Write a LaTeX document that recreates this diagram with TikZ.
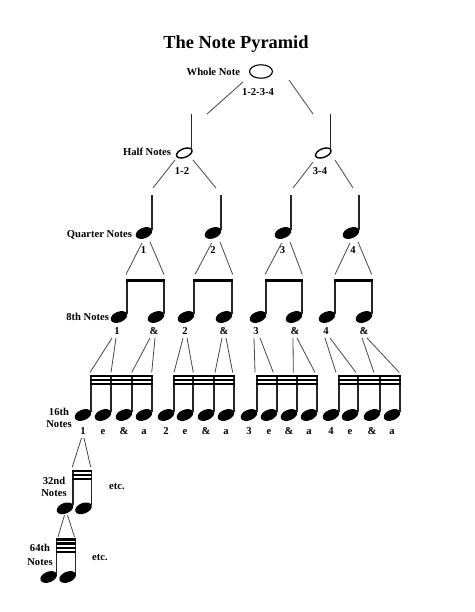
\documentclass[tikz,border=0pt]{standalone}
\usepackage{fontspec}
\setmainfont{Liberation Serif}
\usetikzlibrary{shapes.geometric}
\begin{document}
\begin{tikzpicture}[x=1pt,y=-1pt,
  lbl/.style={font=\bfseries\fontsize{10.6}{12}\selectfont, inner sep=0pt, outer sep=0pt},
  mlbl/.style={lbl, align=center},
  titlefont/.style={font=\bfseries\fontsize{18.4}{22}\selectfont, inner sep=0pt},
  fhead/.style={ellipse, fill=black, draw=none, minimum width=17.4pt, minimum height=10.6pt, inner sep=0pt, outer sep=0pt, rotate=22},
  ohead/.style={ellipse, draw=black, line width=1.4pt, fill=white, minimum width=16.4pt, minimum height=8.6pt, inner sep=0pt, outer sep=0pt, rotate=22},
  wholehead/.style={ellipse, draw=black, line width=1.1pt, fill=white, minimum width=23pt, minimum height=13.5pt, inner sep=0pt},
  stemline/.style={line width=1.1pt, black!85},
  connline/.style={line width=0.8pt, black!72},
  beamline/.style={line width=2.8pt, black},
  beamthin/.style={line width=2pt, black},
]
\def\hoff{8.05}
\useasboundingbox (0,0) rectangle (474,612);
\fill[white] (0,0) rectangle (474,612);

% title
\node[titlefont, anchor=base] (title) at (236,49) {The Note Pyramid};

% whole note
\node[wholehead] (whole) at (261,71.5) {};
\node[lbl, anchor=base east] (wlab) at (240,75.5) {Whole Note};
\node[lbl, anchor=base] (wcount) at (258,96) {1-2-3-4};

% half notes
\coordinate (htop) at (0,114);
\node[ohead] (h1) at (184.3,153) {};
\node[ohead] (h2) at (323.3,153) {};
\draw[stemline] (h1.east) -- (h1.east |- htop);
\draw[stemline] (h2.east) -- (h2.east |- htop);
\node[lbl, anchor=base east] (hlab) at (171,156) {Half Notes};
\node[lbl, anchor=base] (hc1) at (182,175) {1-2};
\node[lbl, anchor=base] (hc2) at (320,175) {3-4};

% quarter notes
\coordinate (qtop) at (0,195);
\foreach \i/\x/\lx in {1/152/143.5, 2/221/213, 3/291/282.5, 4/359/353} {
  \node[fhead] (q\i) at (\x-\hoff,233) {};
  \draw[stemline] (q\i.east) -- (q\i.east |- qtop);
  \node[lbl, anchor=base] (qn\i) at (\lx,253) {\i};
}
\node[lbl, anchor=base east] (qlab) at (132,237) {Quarter Notes};

% eighth notes
\coordinate (b8) at (0,279.3);
\foreach \i/\x/\lx/\t in {1/127/117/1, 2/164/154/\&, 3/194/185/2, 4/232/224/\&, 5/266/256/3, 6/302/295/\&, 7/335/326/4, 8/372/364/\&} {
  \node[fhead] (e\i) at (\x-\hoff,317) {};
  \draw[stemline] (e\i.east) -- (e\i.east |- b8);
  \node[lbl, anchor=base] (en\i) at (\lx,334.5) {\t};
}
\foreach \a/\b in {127/164, 194/232, 266/302, 335/372}
  \draw[beamline] (\a-0.55,280.5) -- (\b+0.55,280.5);
\node[lbl, anchor=base east] (elab) at (109,320) {8th Notes};

% sixteenth notes
\coordinate (b16) at (0,375.3);
\coordinate (n16) at (0,434);
\foreach \i/\x/\t in {1/91/1, 2/111/e, 3/132/\&, 4/152/a, 5/174/2, 6/193/e, 7/214/\&, 8/234/a, 9/257/3, 10/277/e, 11/297/\&, 12/317/a, 13/339/4, 14/358/e, 15/380/\&, 16/400/a} {
  \node[fhead] (s\i) at (\x-\hoff,415) {};
  \draw[stemline] (s\i.east) -- (s\i.east |- b16);
  \node[lbl, anchor=base] (sn\i) at (s\i.center |- n16) {\t};
}
\foreach \a/\b in {91/152, 174/234, 257/317, 339/400}
  \foreach \yy in {376.2, 379.8, 383.9}
    \draw[beamthin] (\a-0.55,\yy) -- (\b+0.55,\yy);
\node[mlbl] (slab) at (59,418) {16th\\Notes};

% thirty-second notes
\coordinate (b32) at (0,470.2);
\node[fhead] (t1) at (73-\hoff,508.3) {};
\node[fhead] (t2) at (91.5-\hoff,508.3) {};
\draw[stemline] (t1.east) -- (t1.east |- b32);
\draw[stemline] (t2.east) -- (t2.east |- b32);
\foreach \yy in {471.2, 475, 479}
  \draw[beamthin] (72.45,\yy) -- (92.05,\yy);
\node[mlbl] (tlab) at (54,487) {32nd\\Notes};
\node[lbl] (tetc) at (117,487) {etc.};

% sixty-fourth notes
\coordinate (b64) at (0,538.4);
\node[fhead] (x1) at (56.7-\hoff,577) {};
\node[fhead] (x2) at (75.7-\hoff,577) {};
\draw[stemline] (x1.east) -- (x1.east |- b64);
\draw[stemline] (x2.east) -- (x2.east |- b64);
\foreach \yy in {539.5, 543.4, 547.6, 551.8}
  \draw[beamthin, line width=2.2pt] (56.15,\yy) -- (76.25,\yy);
\node[mlbl] (xlab) at (40,555) {64th\\[1.5pt]Notes};
\node[lbl] (xetc) at (100,558) {etc.};

% connectors
\foreach \n/\xa/\ya/\xb/\yb in {
  wa/243/82/207/114, wb/289/80/313/114,
  ha/175/160/153/188, hb/193/160/216/188,
  hc/313/162/293/188, hd/335/160/353/188,
  qa/142/243/126/274.5, qb/150/242/164/274.5,
  qc/211.7/243/195/274.5, qd/220/242/232.7/274.5,
  qe/281.7/243/265/274.5, qf/290/242/302.3/274.5,
  qg/350/243/335/274.5, qh/358/242/371.7/274.5,
  ea/112/338/90/372.5, eb/116/338/111/372.5,
  ec/150/338/131.7/372.5, ed/155/338/151.7/372.5,
  ee/183/338/174/372.5, ef/187/338/193.3/372.5,
  eg/222/338/215/372.5, eh/226/338/232.7/372.5,
  ei/254/338/255/372.5, ej/260/338/273.3/372.5,
  ek/293/338/293.3/372.5, el/297/338/315/372.5,
  em/325/338/336/372.5, en/330/338/356/372.5,
  eo/362/338/374/372.5, ep/367/338/399.3/372.5,
  sa/81.5/438/72.3/467, sb/84/438/90.7/467,
  ta/64.5/515/58/537, tb/67.5/515/74.5/537} {
  \coordinate (\n-a) at (\xa,\ya);
  \coordinate (\n-b) at (\xb,\yb);
  \draw[connline] (\n-a) -- (\n-b);
}
\end{tikzpicture}
\end{document}
